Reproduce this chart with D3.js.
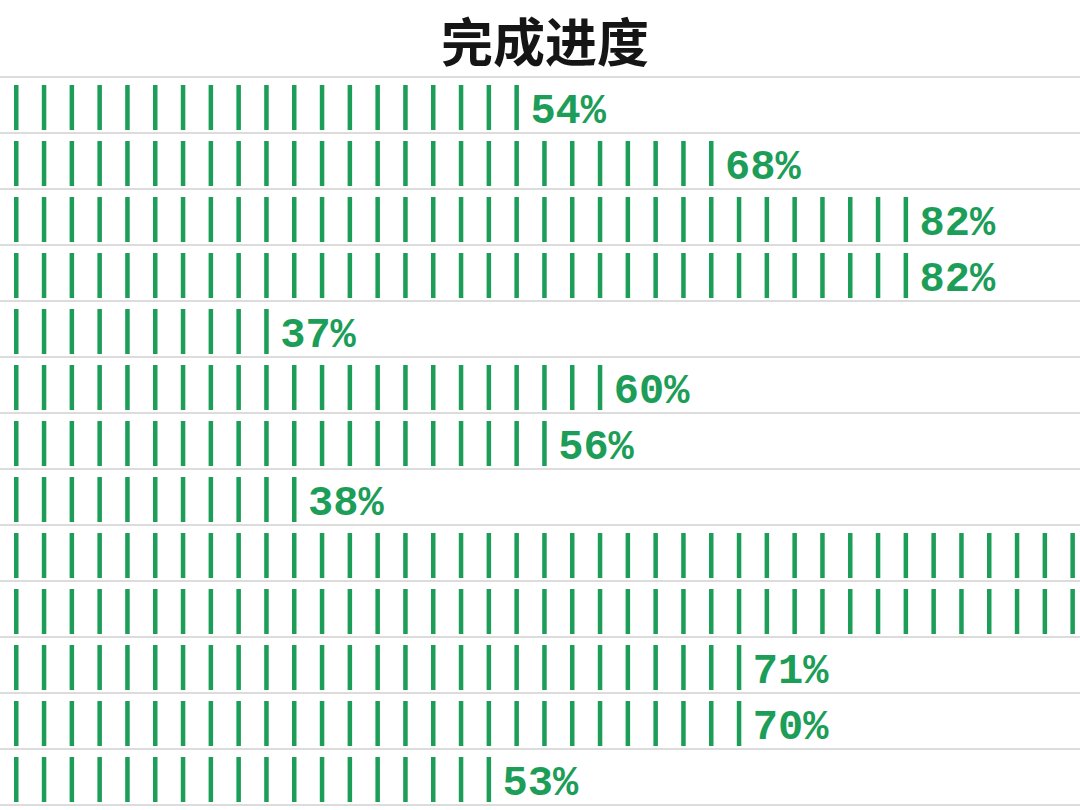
<!DOCTYPE html>
<html>
<head>
<meta charset="utf-8">
<script src="https://cdn.jsdelivr.net/npm/d3@7"></script>
<style>
  html, body { margin: 0; padding: 0; background: #fff; }
  svg { display: block; }
</style>
</head>
<body>
<div id="chart"></div>
<script>
// data
const title = "完成进度";
const rows = ["1", "2", "3", "4", "5", "6", "7", "8", "9", "10", "11", "12", "13"];
const values = [54, 68, 82, 82, 37, 60, 56, 38, 100, 100, 71, 70, 53];
const step = 2;      // one "|" per 2%
const firstMark = 18; // first visible mark

const width = 1080;
const height = 810;

const svg = d3.select("#chart").append("svg")
  .attr("width", width)
  .attr("height", height);

// scales
const x = d3.scaleLinear()
  .domain([firstMark, 98])
  .range([16, 16 + 80 * 13.9]);

const y = d3.scaleBand()
  .domain(rows)
  .range([77, 805]);

// title
svg.append("text")
  .attr("x", 545)
  .attr("y", 39)
  .attr("text-anchor", "middle")
  .attr("dominant-baseline", "central")
  .attr("font-family", "'Noto Sans CJK SC', sans-serif")
  .attr("font-weight", 700)
  .attr("font-size", 52)
  .attr("fill", "#151515")
  .text(title);

// row lines
const edges = rows.map(r => y(r)).concat([y.range()[1]]);
svg.append("g")
  .selectAll("line")
  .data(edges)
  .join("line")
  .attr("x1", 0)
  .attr("x2", width)
  .attr("y1", d => d)
  .attr("y2", d => d)
  .attr("stroke", "#dcdcdc")
  .attr("stroke-width", 2);

const green = "#1c9d58";
const lastMark = v => Math.floor(v / step) * step;

const rowG = svg.append("g")
  .selectAll("g")
  .data(values)
  .join("g")
  .attr("transform", (d, i) => `translate(0, ${y(rows[i])})`);

// marks
rowG.selectAll("rect")
  .data(v => d3.range(firstMark, lastMark(v) + 1, step))
  .join("rect")
  .attr("x", p => x(p) - 2)
  .attr("y", 8)
  .attr("width", 4.5)
  .attr("height", y.bandwidth() - 11)
  .attr("fill", green);

// labels (the ones past the right edge are not visible in the picture)
rowG.filter(v => x(lastMark(v)) + 90 < width)
  .append("text")
  .attr("x", v => x(lastMark(v)) + 14)
  .attr("y", 46)
  .attr("font-family", "'Liberation Mono', monospace")
  .attr("font-weight", 700)
  .attr("font-size", 42)
  .attr("fill", green)
  .text(v => v + "%");
</script>
</body>
</html>
